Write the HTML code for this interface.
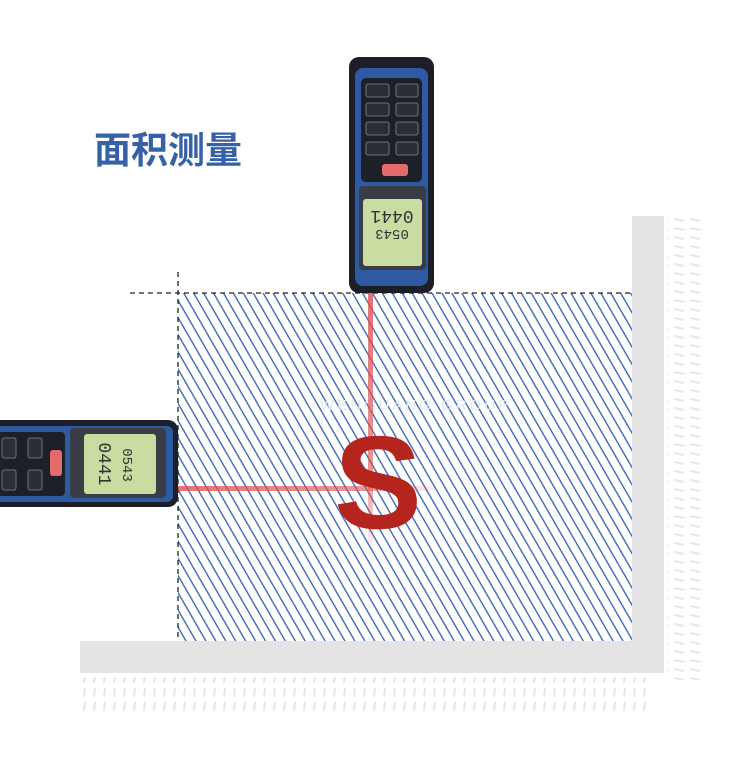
<!DOCTYPE html>
<html><head><meta charset="utf-8"><style>
html,body{margin:0;padding:0;background:#fff;}
body{width:750px;height:765px;position:relative;overflow:hidden;font-family:"Liberation Sans","Noto Sans CJK SC",sans-serif;}
</style></head><body>
<svg width="750" height="765" viewBox="0 0 750 765" xmlns="http://www.w3.org/2000/svg" style="position:absolute;left:0;top:0">
<defs>
<pattern id="h" width="8.6" height="20" patternUnits="userSpaceOnUse" patternTransform="rotate(-30)">
<line x1="4" y1="-5" x2="4" y2="25" stroke="#3b69b8" stroke-width="1.4"/>
</pattern>
<pattern id="gd" width="16" height="9" patternUnits="userSpaceOnUse">
<line x1="2" y1="3" x2="12" y2="5" stroke="#e6e6e6" stroke-width="2"/>
</pattern>
<pattern id="gv" width="10" height="14" patternUnits="userSpaceOnUse">
<line x1="5" y1="2" x2="4" y2="11" stroke="#e6e6e6" stroke-width="2"/>
</pattern>
<linearGradient id="lv" x1="0" y1="0" x2="0" y2="1"><stop offset="0" stop-color="#e05050" stop-opacity=".8"/><stop offset=".7" stop-color="#e05050" stop-opacity=".6"/><stop offset="1" stop-color="#e05050" stop-opacity="0"/></linearGradient>
<linearGradient id="lh" x1="0" y1="0" x2="1" y2="0"><stop offset="0" stop-color="#e05050" stop-opacity=".8"/><stop offset=".7" stop-color="#e05050" stop-opacity=".6"/><stop offset="1" stop-color="#e05050" stop-opacity="0"/></linearGradient>
</defs>
<rect x="632" y="216" width="32" height="457" fill="#e4e4e4"/>
<rect x="80" y="641" width="584" height="32" fill="#e4e4e4"/>
<rect x="667" y="218" width="36" height="462" fill="url(#gd)"/>
<rect x="78" y="677" width="572" height="36" fill="url(#gv)"/>
<rect x="178" y="293" width="454" height="348" fill="url(#h)"/>
<text x="320" y="410" font-size="15" fill="#e3e8f4" font-family="Liberation Sans" letter-spacing="3">WENGUANG GROUP</text>
<line x1="130" y1="293" x2="632" y2="293" stroke="#222" stroke-width="1.3" stroke-dasharray="5,4"/>
<line x1="178" y1="272" x2="178" y2="641" stroke="#222" stroke-width="1.3" stroke-dasharray="5,4"/>
<rect x="368" y="293" width="5" height="262" fill="url(#lv)"/>
<rect x="178" y="486" width="265" height="5" fill="url(#lh)"/>
<text x="378" y="528" text-anchor="middle" font-size="132" font-weight="bold" fill="#b5251d" font-family="Liberation Sans">S</text>
<g>
<rect x="349" y="57" width="85" height="236" rx="10" fill="#1c1f2a"/>
<rect x="355" y="68" width="73" height="218" rx="8" fill="#2d5aa0"/>
<rect x="361" y="78" width="61" height="104" rx="5" fill="#1d2029"/>
<g fill="#2a2e39" stroke="#888" stroke-width=".8">
<rect x="366" y="84" width="23" height="13" rx="2"/><rect x="396" y="84" width="22" height="13" rx="2"/>
<rect x="366" y="103" width="23" height="13" rx="2"/><rect x="396" y="103" width="22" height="13" rx="2"/>
<rect x="366" y="122" width="23" height="13" rx="2"/><rect x="396" y="122" width="22" height="13" rx="2"/>
<rect x="366" y="142" width="23" height="13" rx="2"/><rect x="396" y="142" width="22" height="13" rx="2"/>
</g>
<rect x="382" y="164" width="26" height="12" rx="3" fill="#e36b6b"/>
<rect x="359" y="186" width="67" height="84" rx="4" fill="#3a3d45"/>
<rect x="363" y="199" width="59" height="67" rx="3" fill="#c9dca2"/>
<text x="392" y="223" text-anchor="middle" font-size="18" fill="#333" transform="rotate(180 392 217)" font-family="Liberation Mono">0441</text>
<text x="392" y="240" text-anchor="middle" font-size="14" fill="#333" transform="rotate(180 392 235)" font-family="Liberation Mono">0543</text>
</g>
<g>
<rect x="-10" y="420" width="188" height="87" rx="10" fill="#1c1f2a"/>
<rect x="-5" y="426" width="178" height="76" rx="6" fill="#2d5aa0"/>
<rect x="-5" y="432" width="70" height="64" rx="4" fill="#1d2029"/>
<g fill="#2a2e39" stroke="#888" stroke-width=".8">
<rect x="2" y="438" width="14" height="20" rx="2"/><rect x="2" y="470" width="14" height="20" rx="2"/>
<rect x="28" y="438" width="14" height="20" rx="2"/><rect x="28" y="470" width="14" height="20" rx="2"/>
</g>
<rect x="50" y="450" width="12" height="26" rx="3" fill="#e36b6b"/>
<rect x="70" y="428" width="96" height="70" rx="4" fill="#3a3d45"/>
<rect x="84" y="434" width="72" height="60" rx="3" fill="#c9dca2"/>
<text x="105" y="470" text-anchor="middle" font-size="18" fill="#333" transform="rotate(90 105 464)" font-family="Liberation Mono">0441</text>
<text x="128" y="470" text-anchor="middle" font-size="14" fill="#333" transform="rotate(90 128 465)" font-family="Liberation Mono">0543</text>
</g>
<text x="94" y="163" font-size="37" font-weight="bold" fill="#3562a6" font-family="Noto Sans CJK SC, sans-serif">面积测量</text>
</svg>
</body></html>
